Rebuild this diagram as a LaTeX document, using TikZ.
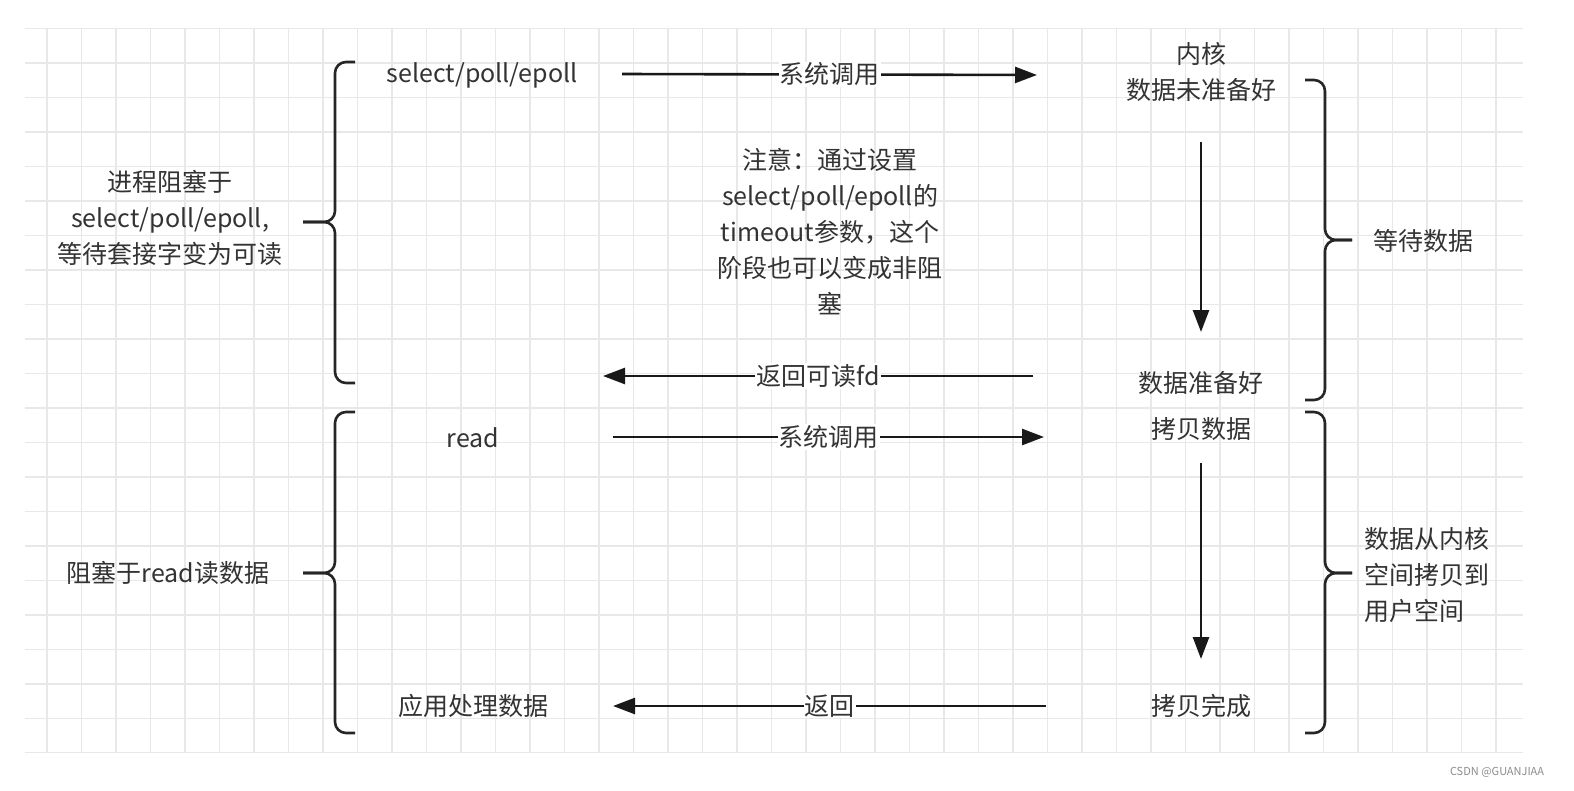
\documentclass[tikz,border=0pt]{standalone}
\usepackage{fontspec}
\setmainfont{Noto Sans CJK SC}
\usetikzlibrary{arrows.meta}
\definecolor{txt}{HTML}{333333}
\begin{document}
\begin{tikzpicture}[x=1pt,y=-1pt,
  lbl/.style={font=\fontsize{25}{36}\selectfont,text=txt,inner sep=1pt,align=center},
  arr/.style={line width=2.6pt,draw=black!90,-{Triangle[length=22pt,width=16pt]}},
  brc/.style={line width=2.6pt,draw=black!85,rounded corners=11pt},
  mid/.style={lbl,fill=white}]
\useasboundingbox (0,0) rectangle (1574,790);
\fill[white] (0,0) rectangle (1574,790);
\begin{scope}
\clip (25,28) rectangle (1523,752);
\foreach \i in {0,...,44} \draw[black!9,line width=1.2pt] (47+34.5*\i,28) -- (47+34.5*\i,752);
\foreach \j in {0,...,21} \draw[black!9,line width=1.2pt] (25,28.5+34.5*\j) -- (1523,28.5+34.5*\j);
\end{scope}
% texts
\node[lbl] (sel) at (482,75) {select/poll/epoll};
\node[lbl] (kern) at (1201,72) {内核\\数据未准备好};
\node[lbl] (note) at (830,232) {注意：通过设置\\select/poll/epoll的\\timeout参数，这个\\阶段也可以变成非阻\\塞};
\node[lbl] (ready) at (1201,383) {数据准备好};
\node[lbl] (copy) at (1201,429) {拷贝数据};
\node[lbl] (done) at (1201,706) {拷贝完成};
\node[lbl] (read) at (473,438) {read};
\node[lbl] (app) at (473,706) {应用处理数据};
\node[lbl] (lt1) at (170,218) {进程阻塞于\\select/poll/epoll,\\等待套接字变为可读};
\node[lbl] (lt2) at (168,573) {阻塞于read读数据};
\node[lbl] (rt1) at (1423,241) {等待数据};
\node[lbl,align=left,anchor=west] (rt2) at (1363,575) {数据从内核\\空间拷贝到\\用户空间};
\node[font=\fontsize{11}{13}\selectfont,text=black!45] (cs) at (1497,772) {CSDN @GUANJIAA};
% arrows
\coordinate (a1s) at (622,74); \coordinate (a1e) at (1037,75);
\draw[arr] (a1s) -- node[mid] {系统调用} (a1e);
\coordinate (a2s) at (1033,376); \coordinate (a2e) at (603,376);
\draw[arr] (a2s) -- node[mid] {返回可读fd} (a2e);
\coordinate (a3s) at (613,437); \coordinate (a3e) at (1044,437);
\draw[arr] (a3s) -- node[mid] {系统调用} (a3e);
\coordinate (a4s) at (1046,706); \coordinate (a4e) at (613,706);
\draw[arr] (a4s) -- node[mid] {返回} (a4e);
\coordinate (v1s) at (1201,142); \coordinate (v1e) at (1201,332);
\draw[arr] (v1s) -- (v1e);
\coordinate (v2s) at (1201,463); \coordinate (v2e) at (1201,659);
\draw[arr] (v2s) -- (v2e);
% braces
\draw[brc] (355,62) -- (335,62) -- (335,222) -- (303,222);
\draw[brc] (303,222) -- (335,222) -- (335,383) -- (355,383);
\draw[brc] (355,412) -- (335,412) -- (335,573) -- (303,573);
\draw[brc] (303,573) -- (335,573) -- (335,733) -- (355,733);
\draw[brc] (1305,80) -- (1325,80) -- (1325,240) -- (1352,240);
\draw[brc] (1352,240) -- (1325,240) -- (1325,400) -- (1305,400);
\draw[brc] (1305,412) -- (1325,412) -- (1325,573) -- (1352,573);
\draw[brc] (1352,573) -- (1325,573) -- (1325,733) -- (1305,733);
\end{tikzpicture}
\end{document}
